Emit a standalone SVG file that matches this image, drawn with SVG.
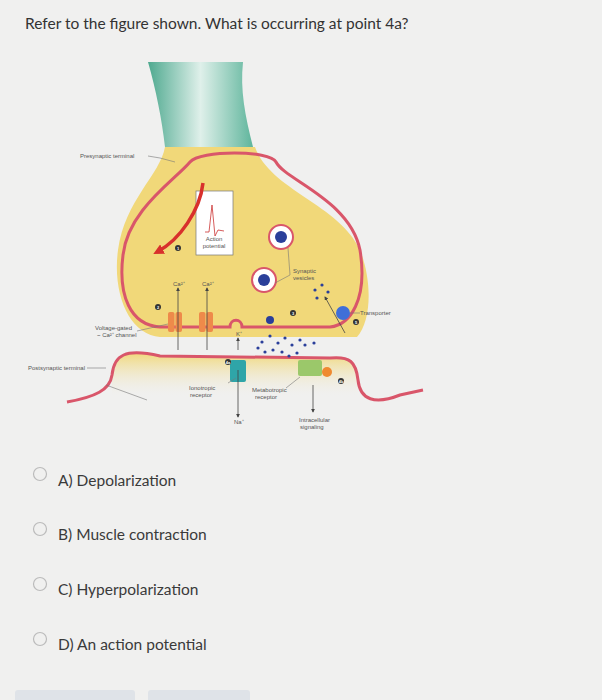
<svg xmlns="http://www.w3.org/2000/svg" width="602" height="700" viewBox="0 0 602 700">
<defs>
<style>
.q{font-family:Lato,"Liberation Sans",sans-serif;fill:#333}
.opt{font-family:Lato,"Liberation Sans",sans-serif;font-size:15.5px;fill:#3a3a3a}
.lbl{font-family:"Liberation Sans",sans-serif;font-size:6px;fill:#555}
.num{font-family:"Liberation Sans",sans-serif;font-size:4px;fill:#fff;font-weight:bold}
.mem{fill:none;stroke:#d9566a;stroke-width:3}
.ln{stroke:#777;stroke-width:0.6;fill:none}
.ar{stroke:#444;stroke-width:0.8;fill:none;marker-end:url(#ah)}
.rad{fill:none;stroke:#bbb;stroke-width:1.2}
</style>
<marker id="ah" viewBox="0 0 10 10" refX="8" refY="5" markerWidth="5" markerHeight="5" orient="auto"><path d="M0,0L10,5L0,10z" fill="#444"/></marker>
<marker id="rh" viewBox="0 0 10 10" refX="6" refY="5" markerWidth="3" markerHeight="3" orient="auto"><path d="M0,0L10,5L0,10z" fill="#d8302c"/></marker>
<linearGradient id="ax" x1="0" x2="1"><stop offset="0" stop-color="#4ea98f"/><stop offset="0.5" stop-color="#dff0ea"/><stop offset="1" stop-color="#5fb59c"/></linearGradient>
<radialGradient id="yl" cx="0.5" cy="0.6" r="0.6"><stop offset="0" stop-color="#fbf1bd"/><stop offset="1" stop-color="#efd46a"/></radialGradient>
<linearGradient id="py" x1="0" y1="0" x2="0" y2="1"><stop offset="0" stop-color="#f1d879"/><stop offset="1" stop-color="#f0f0ef" stop-opacity="0"/></linearGradient>
</defs>
<rect width="602" height="700" fill="#f0f0ef"/>
<text class="q" x="25" y="29" font-size="15.5">Refer to the figure shown. What is occurring at point 4a?</text>

<g id="presynaptic">
<path d="M148,62 C156,90 162,120 165,147 L253,147 C245,115 240,90 243,62 Z" fill="url(#ax)"/>
<path d="M165,147 C160,175 125,200 118,250 C112,295 130,335 160,337 L357,337 C372,320 372,280 360,250 C340,205 270,190 255,147 Z" fill="#f1d879"/>
<path d="M190,162 C200,150 270,150 276,162 C285,180 350,200 360,250 C368,300 350,325 330,327 L242,327 C242,318 230,318 230,327 L160,327 C130,325 118,295 123,255 C128,210 175,180 190,162 Z" fill="url(#yl)" class="mem"/>
</g>
<g id="postsynaptic">
<path d="M112,375 C114,355 125,348 160,356 L330,358 C350,356 356,362 358,380 L358,398 L112,398 Z" fill="url(#py)"/>
<path class="mem" d="M67,402 C95,397 110,390 112,375 C114,355 125,348 160,356 L330,358 C350,356 356,362 358,380 C360,400 375,405 400,395 L423,390"/>
<line class="ln" x1="106" y1="385" x2="147" y2="400"/>
</g>
<g id="action-potential">
<rect x="196" y="191" width="37" height="64" fill="#fff" stroke="#777" stroke-width="0.7"/>
<path d="M205,232 L209,232 L212,205 L215,236 L218,230 L224,231" fill="none" stroke="#c33" stroke-width="0.8"/>
<text class="lbl" x="214" y="241" text-anchor="middle">Action</text>
<text class="lbl" x="214" y="248" text-anchor="middle">potential</text>
<path d="M203,183 C200,210 180,240 157,252" fill="none" stroke="#d8302c" stroke-width="3.5" marker-end="url(#rh)"/>
<circle cx="178" cy="248" r="3" fill="#333"/><text class="num" x="178" y="249.5" text-anchor="middle">1</text>
</g>
<g id="vesicles">
<circle cx="281" cy="237" r="12" fill="#fff" stroke="#d9566a" stroke-width="2"/>
<circle cx="281" cy="237" r="6" fill="#2a3f9a"/>
<circle cx="264" cy="280" r="12" fill="#fff" stroke="#d9566a" stroke-width="2"/>
<circle cx="264" cy="280" r="6" fill="#2a3f9a"/>
<path class="ln" d="M288,248 L290,275 L275,283"/>
<text class="lbl" x="293" y="273">Synaptic</text><text class="lbl" x="293" y="280">vesicles</text>
<circle cx="270" cy="320" r="4" fill="#2a3f9a"/>
<g fill="#2a3f9a">
<circle cx="262" cy="342" r="1.6"/><circle cx="270" cy="336" r="1.6"/><circle cx="278" cy="343" r="1.6"/><circle cx="285" cy="338" r="1.6"/><circle cx="292" cy="345" r="1.6"/><circle cx="300" cy="340" r="1.6"/><circle cx="265" cy="352" r="1.6"/><circle cx="273" cy="350" r="1.6"/><circle cx="282" cy="352" r="1.6"/><circle cx="289" cy="356" r="1.6"/><circle cx="297" cy="353" r="1.6"/><circle cx="305" cy="345" r="1.6"/><circle cx="258" cy="348" r="1.6"/><circle cx="314" cy="343" r="1.6"/><circle cx="303" cy="364" r="1.6"/><circle cx="315" cy="290" r="1.6"/><circle cx="322" cy="285" r="1.6"/><circle cx="328" cy="292" r="1.6"/><circle cx="317" cy="298" r="1.6"/>
</g>
<circle cx="293" cy="313" r="3" fill="#333"/><text class="num" x="293" y="314.5" text-anchor="middle">3</text>
</g>
<g id="transporter">
<circle cx="343" cy="313" r="7" fill="#3f6fd8"/>
<line class="ar" x1="345" y1="333" x2="325" y2="297"/>
<line class="ln" x1="350" y1="313" x2="360" y2="313"/>
<text class="lbl" x="360" y="315">Transporter</text>
<circle cx="356" cy="322" r="3" fill="#333"/><text class="num" x="356" y="323.5" text-anchor="middle">5</text>
</g>
<g id="ca-channels">
<rect x="168" y="312" width="6.5" height="20" rx="2" fill="#ee8a4a"/><rect x="175.5" y="312" width="6.5" height="20" rx="2" fill="#ee8a4a"/>
<rect x="199" y="312" width="6.5" height="20" rx="2" fill="#ee8a4a"/><rect x="206.5" y="312" width="6.5" height="20" rx="2" fill="#ee8a4a"/>
<line class="ar" x1="178" y1="350" x2="178" y2="288"/>
<line class="ar" x1="207" y1="350" x2="207" y2="288"/>
<text class="lbl" x="173" y="286">Ca²⁺</text><text class="lbl" x="202" y="286">Ca²⁺</text>
<circle cx="158" cy="307" r="3" fill="#333"/><text class="num" x="158" y="308.5" text-anchor="middle">2</text>
<path class="ln" d="M137,331 L168,324"/>
<text class="lbl" x="95" y="330">Voltage-gated</text><text class="lbl" x="97" y="337">~ Ca²⁺ channel</text>
<text class="lbl" x="28" y="370">Postsynaptic terminal</text>
<path class="ln" d="M87,368 L106,368"/>
<text class="lbl" x="80" y="158">Presynaptic terminal</text>
<path class="ln" d="M148,156 L160,158 L175,162"/>
</g>
<g id="receptors">
<rect x="230" y="360" width="16" height="22" rx="2" fill="#2fa5a8"/>
<line class="ar" x1="238" y1="350" x2="238" y2="338"/>
<line class="ar" x1="238" y1="370" x2="238" y2="417"/>
<text class="lbl" x="236" y="336">K⁺</text><text class="lbl" x="234" y="424">Na⁺</text>
<circle cx="228" cy="362" r="3" fill="#333"/><text class="num" x="228" y="363.5" text-anchor="middle">4a</text>
<path class="ln" d="M228,383 L236,378"/>
<text class="lbl" x="189" y="390">Ionotropic</text><text class="lbl" x="190" y="397">receptor</text>
<rect x="298" y="360" width="24" height="16" rx="2" fill="#9bc86a"/>
<circle cx="327" cy="372" r="5" fill="#ef8a30"/>
<circle cx="341" cy="381" r="3" fill="#333"/><text class="num" x="341" y="382.5" text-anchor="middle">4b</text>
<line class="ar" x1="313" y1="385" x2="313" y2="412"/>
<path class="ln" d="M286,388 L300,377"/>
<text class="lbl" x="252" y="392">Metabotropic</text><text class="lbl" x="255" y="399">receptor</text>
<text class="lbl" x="299" y="422">Intracellular</text><text class="lbl" x="300" y="429">signaling</text>
</g>
<g id="options">
<circle class="rad" cx="40" cy="474" r="6.5" fill="#fff"/><text class="opt" x="58" y="486">A)  Depolarization</text>
<circle class="rad" cx="40" cy="529" r="6.5" fill="#fff"/><text class="opt" x="58" y="540">B)  Muscle contraction</text>
<circle class="rad" cx="40" cy="584" r="6.5" fill="#fff"/><text class="opt" x="58" y="595">C)  Hyperpolarization</text>
<circle class="rad" cx="40" cy="639" r="6.5" fill="#fff"/><text class="opt" x="58" y="650">D)  An action potential</text>
</g>
<rect x="15" y="690" width="120" height="12" rx="3" fill="#dfe3e8"/>
<rect x="148" y="690" width="102" height="12" rx="3" fill="#dfe3e8"/>
</svg>
